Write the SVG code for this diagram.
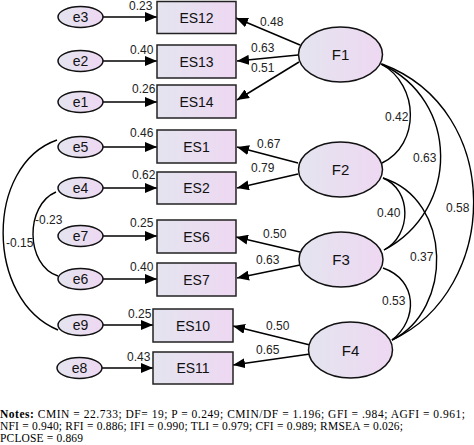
<svg xmlns="http://www.w3.org/2000/svg" width="474" height="445" viewBox="0 0 474 445">
<defs>
<linearGradient id="g" x1="0" y1="0" x2="1" y2="0">
<stop offset="0" stop-color="#e4e4ef"/>
<stop offset="1" stop-color="#eed8f2"/>
</linearGradient>
<marker id="ah" markerUnits="userSpaceOnUse" markerWidth="13" markerHeight="10" refX="12" refY="5" orient="auto">
<path d="M0,0 L12,5 L0,10 z" fill="#000"/>
</marker>
</defs>
<style>
.box{fill:url(#g);stroke:#222;stroke-width:1.5}
.ell{fill:url(#g);stroke:#111;stroke-width:1.5}
.t{font-family:"Liberation Sans",Arial,sans-serif;font-size:14px;fill:#111;text-anchor:middle}
.lt{font-family:"Liberation Sans",Arial,sans-serif;font-size:15px;fill:#111;text-anchor:middle}
.n{font-family:"Liberation Sans",Arial,sans-serif;font-size:12px;fill:#222}
.a{stroke:#000;stroke-width:1.5;fill:none;marker-end:url(#ah)}
.c{stroke:#000;stroke-width:1.4;fill:none}
.note{font-family:"Liberation Serif","Times New Roman",serif;font-size:11.5px;fill:#000}
</style>
<rect width="474" height="445" fill="#fff"/>

<g id="connectors">
<line class="a" x1="103" y1="17" x2="157" y2="17"/>
<line class="a" x1="103" y1="61" x2="157" y2="61"/>
<line class="a" x1="103" y1="102" x2="157" y2="102"/>
<line class="a" x1="103" y1="147" x2="157" y2="147"/>
<line class="a" x1="103" y1="188" x2="157" y2="188"/>
<line class="a" x1="103" y1="236" x2="157" y2="236"/>
<line class="a" x1="103" y1="279" x2="157" y2="279"/>
<line class="a" x1="103" y1="325" x2="153" y2="325"/>
<line class="a" x1="102" y1="368" x2="153" y2="368"/>

<line class="a" x1="300" y1="45" x2="236" y2="18"/>
<line class="a" x1="298" y1="55" x2="237" y2="61"/>
<line class="a" x1="299" y1="62" x2="237" y2="100"/>
<line class="a" x1="298" y1="163" x2="237" y2="147"/>
<line class="a" x1="298" y1="174" x2="237" y2="188"/>
<line class="a" x1="300" y1="252" x2="236" y2="237"/>
<line class="a" x1="300" y1="265" x2="237" y2="278"/>
<line class="a" x1="310" y1="345" x2="233" y2="326"/>
<line class="a" x1="310" y1="354" x2="233" y2="365"/>

<path class="c" d="M381,64 C420,85 420,145 382,163"/>
<path class="c" d="M381,64 C460,100 460,210 384,250"/>
<path class="c" d="M382,64 C505,110 500,290 392,340"/>
<path class="c" d="M383,178 C412,190 412,235 384,250"/>
<path class="c" d="M383,178 C453,200 453,310 392,340"/>
<path class="c" d="M383,268 C418,280 418,320 392,340"/>

<path class="c" d="M57,140 C-15,165 -15,300 58,330"/>
<path class="c" d="M56,192 C25,205 25,265 58,276"/>

<text class="n" x="129" y="10">0.23</text>
<text class="n" x="130" y="54">0.40</text>
<text class="n" x="132" y="93">0.26</text>
<text class="n" x="130" y="137">0.46</text>
<text class="n" x="132" y="179">0.62</text>
<text class="n" x="130" y="227">0.25</text>
<text class="n" x="130" y="271">0.40</text>
<text class="n" x="128" y="318">0.25</text>
<text class="n" x="127" y="361">0.43</text>

<text class="n" x="260" y="26">0.48</text>
<text class="n" x="251" y="52">0.63</text>
<text class="n" x="251" y="72">0.51</text>
<text class="n" x="257" y="148">0.67</text>
<text class="n" x="251" y="172">0.79</text>
<text class="n" x="263" y="238">0.50</text>
<text class="n" x="256" y="264">0.63</text>
<text class="n" x="266" y="330">0.50</text>
<text class="n" x="256" y="354">0.65</text>

<text class="n" x="385" y="121">0.42</text>
<text class="n" x="413" y="162">0.63</text>
<text class="n" x="446" y="212">0.58</text>
<text class="n" x="377" y="217">0.40</text>
<text class="n" x="410" y="261">0.37</text>
<text class="n" x="382" y="305">0.53</text>
<text class="n" x="35" y="224">-0.23</text>
<text class="n" x="6" y="247">-0.15</text>
</g>

<g id="e3"><ellipse class="ell" cx="80.5" cy="17" rx="22.5" ry="10.5"/><text class="t" x="80.5" y="22">e3</text></g>
<g id="e2"><ellipse class="ell" cx="80.5" cy="61" rx="22.5" ry="10.5"/><text class="t" x="80.5" y="66">e2</text></g>
<g id="e1"><ellipse class="ell" cx="80.5" cy="102" rx="22.5" ry="10.5"/><text class="t" x="80.5" y="107">e1</text></g>
<g id="e5"><ellipse class="ell" cx="80.5" cy="147" rx="22.5" ry="10.5"/><text class="t" x="80.5" y="152">e5</text></g>
<g id="e4"><ellipse class="ell" cx="80.5" cy="188" rx="22.5" ry="10.5"/><text class="t" x="80.5" y="193">e4</text></g>
<g id="e7"><ellipse class="ell" cx="80.5" cy="236" rx="22.5" ry="10.5"/><text class="t" x="80.5" y="241">e7</text></g>
<g id="e6"><ellipse class="ell" cx="80.5" cy="279" rx="22.5" ry="10.5"/><text class="t" x="80.5" y="284">e6</text></g>
<g id="e9"><ellipse class="ell" cx="80.5" cy="325" rx="22.5" ry="10.5"/><text class="t" x="80.5" y="330">e9</text></g>
<g id="e8"><ellipse class="ell" cx="79.5" cy="368" rx="22.5" ry="10.5"/><text class="t" x="79.5" y="373">e8</text></g>

<g id="ES12"><rect class="box" x="157" y="1.5" width="79" height="32"/><text class="t" x="196.5" y="22.5">ES12</text></g>
<g id="ES13"><rect class="box" x="157" y="45" width="79" height="33"/><text class="t" x="196.5" y="66.5">ES13</text></g>
<g id="ES14"><rect class="box" x="157" y="85" width="79" height="33"/><text class="t" x="196.5" y="106.5">ES14</text></g>
<g id="ES1"><rect class="box" x="157" y="130" width="79" height="33"/><text class="t" x="196.5" y="151.5">ES1</text></g>
<g id="ES2"><rect class="box" x="157" y="172" width="79" height="32"/><text class="t" x="196.5" y="193">ES2</text></g>
<g id="ES6"><rect class="box" x="157" y="220" width="79" height="33"/><text class="t" x="196.5" y="241.5">ES6</text></g>
<g id="ES7"><rect class="box" x="157" y="263" width="79" height="33"/><text class="t" x="196.5" y="284.5">ES7</text></g>
<g id="ES10"><rect class="box" x="153" y="309" width="80" height="33"/><text class="t" x="193" y="330.5">ES10</text></g>
<g id="ES11"><rect class="box" x="153" y="352" width="80" height="32"/><text class="t" x="193" y="373">ES11</text></g>

<g id="F1"><ellipse class="ell" cx="340.5" cy="54.5" rx="42" ry="27.5"/><text class="lt" x="340.5" y="60">F1</text></g>
<g id="F2"><ellipse class="ell" cx="340.5" cy="169.5" rx="42" ry="27.5"/><text class="lt" x="340.5" y="175">F2</text></g>
<g id="F3"><ellipse class="ell" cx="341" cy="259.5" rx="42" ry="27.5"/><text class="lt" x="341" y="265">F3</text></g>
<g id="F4"><ellipse class="ell" cx="350.5" cy="350" rx="42" ry="28"/><text class="lt" x="350.5" y="355.5">F4</text></g>

<g id="notes">
<text class="note" x="0" y="418" textLength="465" lengthAdjust="spacing"><tspan font-weight="bold">Notes:</tspan> CMIN = 22.733; DF= 19; P = 0.249; CMIN/DF = 1.196; GFI = .984; AGFI = 0.961;</text>
<text class="note" x="0" y="430" textLength="403" lengthAdjust="spacing">NFI = 0.940; RFI = 0.886; IFI = 0.990; TLI = 0.979; CFI = 0.989; RMSEA = 0.026;</text>
<text class="note" x="0" y="442" textLength="83" lengthAdjust="spacing">PCLOSE = 0.869</text>
</g>
</svg>
